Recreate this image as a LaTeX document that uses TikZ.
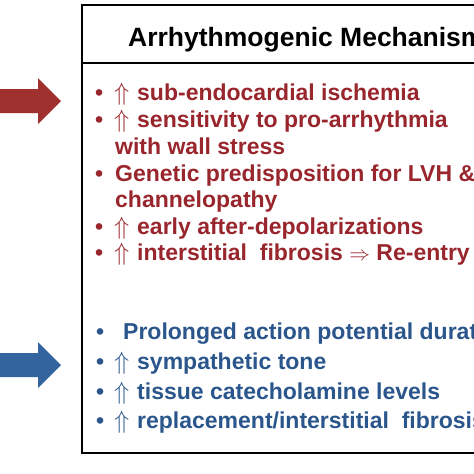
\documentclass[tikz,border=0pt]{standalone}
\usepackage{fontspec}
\setmainfont{Liberation Sans}
\usepackage{amsmath}
\definecolor{mechred}{RGB}{152,38,44}
\definecolor{mechblue}{RGB}{42,86,140}
\definecolor{arrowred}{RGB}{160,48,46}
\definecolor{arrowblue}{RGB}{52,100,160}

\begin{document}
\begin{tikzpicture}[x=1pt,y=-1pt,
                    txt/.style={anchor=base west,inner sep=0pt,
                                font=\fontsize{23}{23}\selectfont\bfseries},
                    up/.style={anchor=base west,inner sep=0pt,
                               font=\fontsize{25}{25}\selectfont}]
  \useasboundingbox (0,0) rectangle (474,474);
  \clip (0,0) rectangle (474,474);

  % block arrows
  \fill[arrowred]  (-5,89) -- (38,89) -- (38,78) -- (61,101)
                   -- (38,124) -- (38,113) -- (-5,113) -- cycle;
  \fill[arrowblue] (-5,353) -- (38,353) -- (38,342) -- (61,365)
                   -- (38,388) -- (38,377) -- (-5,377) -- cycle;

  % box
  \draw[line width=2.5pt] (82,5) rectangle (520,453);
  \draw[line width=2.5pt] (82,63) -- (520,63);

  \node (title) [txt,font=\fontsize{26.5}{27}\selectfont\bfseries]
        at (128,46) {Arrhythmogenic Mechanisms};

  % red items
  \path[mechred]
        ( 95,100) node (rbul1) [txt] {•}
        (114,100) node (rup1)  [up]  {$\Uparrow$}
        (137,100) node (ritem1)[txt] {sub-endocardial ischemia}
        ( 95,127) node (rbul2) [txt] {•}
        (114,127) node (rup2)  [up]  {$\Uparrow$}
        (137,127) node (ritem2)[txt] {sensitivity to pro-arrhythmia}
        (115,154) node (ritem3)[txt] {with wall stress}
        ( 95,181) node (rbul4) [txt] {•}
        (115,181) node (ritem4)[txt] {Genetic predisposition for LVH \&}
        (115,207) node (ritem5)[txt] {channelopathy}
        ( 95,234) node (rbul6) [txt] {•}
        (114,234) node (rup6)  [up]  {$\Uparrow$}
        (137,234) node (ritem6)[txt] {early after-depolarizations}
        ( 95,260) node (rbul7) [txt] {•}
        (114,260) node (rup7)  [up]  {$\Uparrow$}
        (137,260) node (ritem7)[txt] {interstitial\ \ fibrosis
                                      {\fontsize{22}{22}\selectfont$\Rightarrow$}
                                      Re-entry};

  % blue items
  \path[mechblue]
        ( 96,339) node (bbul1) [txt] {•}
        (123,339) node (bitem1)[txt] {Prolonged action potential duration}
        ( 96,369) node (bbul2) [txt] {•}
        (114,369) node (bup2)  [up]  {$\Uparrow$}
        (137,369) node (bitem2)[txt] {sympathetic tone}
        ( 96,399) node (bbul3) [txt] {•}
        (114,399) node (bup3)  [up]  {$\Uparrow$}
        (137,399) node (bitem3)[txt] {tissue catecholamine levels}
        ( 96,428) node (bbul4) [txt] {•}
        (114,428) node (bup4)  [up]  {$\Uparrow$}
        (137,428) node (bitem4)[txt] {replacement/interstitial\ \ fibrosis};
\end{tikzpicture}
\end{document}
